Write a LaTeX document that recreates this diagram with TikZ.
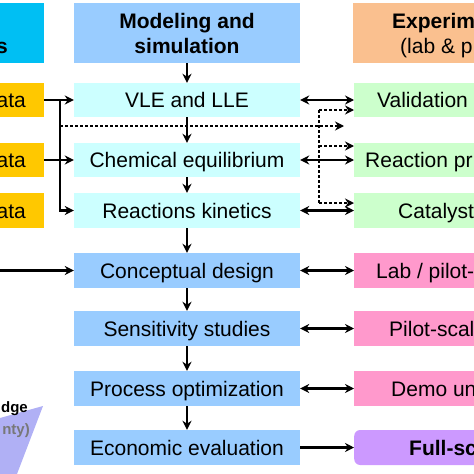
\documentclass[tikz,border=0pt]{standalone}
\usepackage{fontspec}
\setmainfont{Liberation Sans}
\usetikzlibrary{arrows.meta}
\definecolor{cyanH}{RGB}{0,191,243}
\definecolor{blueH}{RGB}{153,204,255}
\definecolor{peach}{RGB}{250,192,143}
\definecolor{goldD}{RGB}{255,200,0}
\definecolor{lcyan}{RGB}{204,255,255}
\definecolor{lgreen}{RGB}{204,255,204}
\definecolor{pinkE}{RGB}{255,153,204}
\definecolor{purpE}{RGB}{204,153,255}
\definecolor{lav}{RGB}{176,176,245}
\definecolor{grayT}{RGB}{120,120,120}
\begin{document}
\begin{tikzpicture}[x=1pt,y=-1pt,
  bigfont/.style={font=\fontsize{21}{25}\selectfont},
  boldfont/.style={font=\fontsize{21}{25}\selectfont\bfseries},
  midbox/.style={fill=#1, draw=none, inner sep=0pt, minimum width=226pt, minimum height=35pt, bigfont, text height=15pt, text depth=0pt},
  sidebox/.style={fill=#1, draw=none, inner sep=0pt, minimum width=140pt, minimum height=35pt, anchor=west},
  leftbox/.style={fill=#1, draw=none, inner sep=0pt, minimum width=84pt, minimum height=35pt, anchor=east},
  lbl/.style={inner sep=0pt, bigfont},
  tip/.style={-{Stealth[length=9pt,width=9pt]}},
  arr/.style={line width=2.4pt, tip},
  darr/.style={line width=2.4pt, {Stealth[length=9pt,width=9pt]}-{Stealth[length=9pt,width=9pt]}},
  dotln/.style={line width=2.6pt, dash pattern=on 2.6pt off 2.4pt}
]
\useasboundingbox (0,0) rectangle (474,474);
\clip (0,0) rectangle (474,474);

% lavender shape
\fill[lav] (0,418) -- (43,406) -- (17,474) -- (0,474) -- cycle;
\node[inner sep=0pt, anchor=base east, font=\fontsize{15}{18}\selectfont\bfseries] (kn) at (28,412) {dge};
\node[inner sep=0pt, anchor=base east, text=grayT, font=\fontsize{15}{18}\selectfont\bfseries] (un) at (30,434) {nty)};

% left column
\node[leftbox=cyanH, minimum height=60pt] (lh) at (44,33) {};
\node[inner sep=0pt, anchor=base east, boldfont] (lhs) at (8,53) {s};
\node[leftbox=goldD, minimum height=34pt] (d1) at (44,100) {};
\node[leftbox=goldD, minimum height=34pt] (d2) at (44,160) {};
\node[leftbox=goldD] (d3) at (44,210.5) {};
\node[lbl, anchor=base east] (t1) at (26,107.5) {ata};
\node[lbl, anchor=base east] (t2) at (26,167.5) {ata};
\node[lbl, anchor=base east] (t3) at (26,218) {ata};

% middle column
\node[fill=blueH, inner sep=0pt, minimum width=226pt, minimum height=60pt, align=center, boldfont] (mh) at (187,33) {Modeling and\\simulation};
\node[midbox=lcyan, minimum height=34pt] (vle) at (187,100) {VLE and LLE};
\node[midbox=lcyan, minimum height=34pt] (chem) at (187,160) {Chemical equilibrium};
\node[midbox=lcyan] (kin) at (187,210.5) {Reactions kinetics};
\node[midbox=blueH] (conc) at (187,270.5) {Conceptual design};
\node[midbox=blueH] (sens) at (187,328.5) {Sensitivity studies};
\node[midbox=blueH] (popt) at (187,388.5) {Process optimization};
\node[midbox=blueH] (econ) at (187,447.5) {Economic evaluation};

% right column
\node[sidebox=peach, minimum height=60pt] (eh) at (353,33) {};
\node[inner sep=0pt, anchor=base west, boldfont] (eht1) at (392,28) {Experim};
\node[lbl, anchor=base west] (eht2) at (400,53) {(lab \& p};
\node[sidebox=lgreen, minimum height=34pt] (val) at (354,100) {};
\node[sidebox=lgreen, minimum height=34pt] (rp) at (354,160) {};
\node[sidebox=lgreen] (cat) at (354,210.5) {};
\node[sidebox=pinkE] (lab) at (354,270.5) {};
\node[sidebox=pinkE] (pil) at (354,328.5) {};
\node[sidebox=pinkE] (demo) at (354,388.5) {};
\node[sidebox=purpE, rounded corners=6pt] (full) at (354,447.5) {};
\node[lbl, anchor=base west] (valt) at (377,107.5) {Validation};
\node[lbl, anchor=base west] (rpt) at (365,167.5) {Reaction pr};
\node[lbl, anchor=base west] (catt) at (398,218) {Catalyst};
\node[lbl, anchor=base west] (labt) at (376,278) {Lab / pilot-};
\node[lbl, anchor=base west] (pilt) at (389,336) {Pilot-scal};
\node[lbl, anchor=base west] (demot) at (391,396) {Demo un};
\node[inner sep=0pt, anchor=base west, boldfont] (fullt) at (409,455) {Full-sc};

% vertical flow
\draw[arr] (mh) -- (vle);
\draw[arr] (vle) -- (chem);
\draw[arr] (chem) -- (kin);
\draw[arr] (kin) -- (conc);
\draw[arr] (conc) -- (sens);
\draw[arr] (sens) -- (popt);
\draw[arr] (popt) -- (econ);

% left inputs
\coordinate (j1) at (60,100);
\coordinate (j2) at (60,126);
\coordinate (dend) at (344,126);
\coordinate (lin) at (0,270.5);
\draw[arr] (d1.east) -- (vle.west);
\draw[arr] (d2.east) -- (chem.west);
\draw[arr] (j1) |- (kin.west);
\draw[arr] (lin) -- (conc.west);
\draw[dotln, tip] (j2) -- (dend);

% dotted branch to experiments
\coordinate (k1) at (319,110);
\coordinate (k3) at (319,146);
\coordinate (k2) at (319,203);
\draw[dotln] (k1) -- (k2);
\draw[dotln, tip] (k1) -- (k1 -| val.west);
\draw[dotln, tip] (k3) -- (k3 -| rp.west);
\draw[dotln, tip] (k2) -- (k2 -| cat.west);

% model <-> experiment
\draw[darr] (vle.east) -- (val.west);
\draw[darr] (chem.east) -- (rp.west);
\draw[darr] (kin.east) -- (cat.west);
\draw[darr] (conc.east) -- (lab.west);
\draw[darr] (sens.east) -- (pil.west);
\draw[darr] (popt.east) -- (demo.west);
\draw[arr] (econ.east) -- (full.west);
\end{tikzpicture}
\end{document}
